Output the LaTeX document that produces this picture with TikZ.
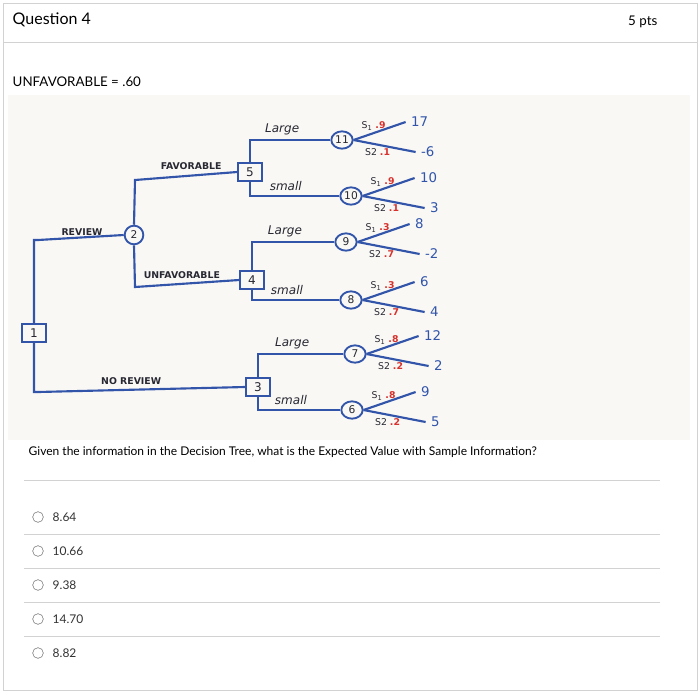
\documentclass[tikz,border=0pt]{standalone}
\usepackage{fontspec}
\usetikzlibrary{shapes.geometric,calc}
\setmainfont{Lato}
\newfontfamily\hand{DejaVu Sans}
\definecolor{ink}{RGB}{50,85,170}
\definecolor{pen}{RGB}{40,40,50}
\definecolor{redink}{RGB}{215,50,45}
\definecolor{rule}{RGB}{210,210,210}
\definecolor{paper}{RGB}{249,248,245}
\begin{document}
\begin{tikzpicture}[x=0.75pt,y=-0.75pt,
  br/.style={draw=ink,line width=1.6pt},
  dec/.style={draw=ink,line width=1.4pt,minimum width=18pt,minimum height=13pt,inner sep=0pt,font=\hand\small,text=pen},
  chn/.style={draw=ink,line width=1.4pt,ellipse,minimum width=16pt,minimum height=13pt,inner sep=0pt,font=\hand\footnotesize,text=pen},
  lab/.style={font=\hand\small\itshape,text=pen,anchor=south},
  capl/.style={font=\hand\scriptsize\bfseries,text=pen,anchor=south},
  val/.style={font=\hand,text=ink,anchor=west},
  pr/.style={font=\hand\scriptsize,text=pen,inner sep=0.5pt},
  opt/.style={font=\small,anchor=west,text=black!80},
  radio/.style={draw=black!55,circle,minimum size=8pt,inner sep=0pt}]
\useasboundingbox (0,0) rectangle (700,694);
\fill[white] (0,0) rectangle (700,694);
\fill[paper] (8,95) rectangle (690,440);
\draw[rule] (3,3) rectangle (697,690);
\draw[rule] (3,42) -- (697,42);
\node[anchor=west,font=\large] (q) at (8,20) {Question 4};
\node[anchor=east] (pts) at (662,22) {5 pts};
\node[anchor=west] (unf) at (8,82) {UNFAVORABLE = .60};
% tree nodes
\node[dec] (d1) at (34,333) {1};
\node[chn,circle,minimum size=14pt] (c2) at (134,235) {2};
\node[dec] (d5) at (250,172) {5};
\node[dec] (d4) at (252,280) {4};
\node[dec] (d3) at (258,387) {3};
\node[chn] (c11) at (342,140) {11};
\node[chn] (c10) at (351,196) {10};
\node[chn] (c9) at (346,242) {9};
\node[chn] (c8) at (351,300) {8};
\node[chn] (c7) at (355,354) {7};
\node[chn] (c6) at (352,410) {6};
% main branches
\coordinate (rv) at (38,240);
\coordinate (nr) at (38,392);
\draw[br] (d1.north) |- (rv) -- (c2.west);
\draw[br] (d1.south) |- (nr) -- node[capl,pos=0.45]{NO REVIEW} (d3.west);
\node[capl] (lrev) at (82,240) {REVIEW};
\draw[br] (c2.north) -- (135,180) -- node[capl,pos=0.55]{FAVORABLE} (d5.west);
\draw[br] (c2.south) -- (135,287) -- node[capl,pos=0.45]{UNFAVORABLE} (d4.west);
% decisions
\draw[br] (d5.north) |- node[lab,pos=0.7]{Large} (c11.west);
\draw[br] (d5.south) |- node[lab,pos=0.7]{small} (c10.west);
\draw[br] (d4.north) |- node[lab,pos=0.7]{Large} (c9.west);
\draw[br] (d4.south) |- node[lab,pos=0.7]{small} (c8.west);
\draw[br] (d3.north) |- node[lab,pos=0.7]{Large} (c7.west);
\draw[br] (d3.south) |- node[lab,pos=0.7]{small} (c6.west);
% outcome branches
\foreach \c/\a/\b/\p/\q in {c11/17/-6/.9/.1, c10/10/3/.9/.1, c9/8/-2/.3/.7, c8/6/4/.3/.7, c7/12/2/.8/.2, c6/9/5/.8/.2}{
  \coordinate (\c u) at ($(\c.east)+(52,-18)$);
  \coordinate (\c d) at ($(\c.east)+(62,12)$);
  \draw[br] (\c.east) -- (\c u) node[val]{\a};
  \draw[br] (\c.east) -- (\c d) node[val]{\b};
  \node[pr,anchor=south] at ($(\c.east)+(20,-9)$) {S\textsubscript{1} {\color{redink}\bfseries\p}};
  \node[pr,anchor=north] at ($(\c.east)+(24,8)$) {S2 {\color{redink}\bfseries\q}};
}
% question
\node[anchor=west,font=\small] (qt) at (24,452) {Given the information in the Decision Tree, what is the Expected Value with Sample Information?};
\foreach \y in {480,534,568,602,636} \draw[rule] (24,\y) -- (660,\y);
\foreach \y/\t in {517/8.64,551/10.66,585/9.38,619/14.70,653/8.82}{
  \node[radio] at (38,\y) {};
  \node[opt] at (48,\y) {\t};
}
\end{tikzpicture}
\end{document}
